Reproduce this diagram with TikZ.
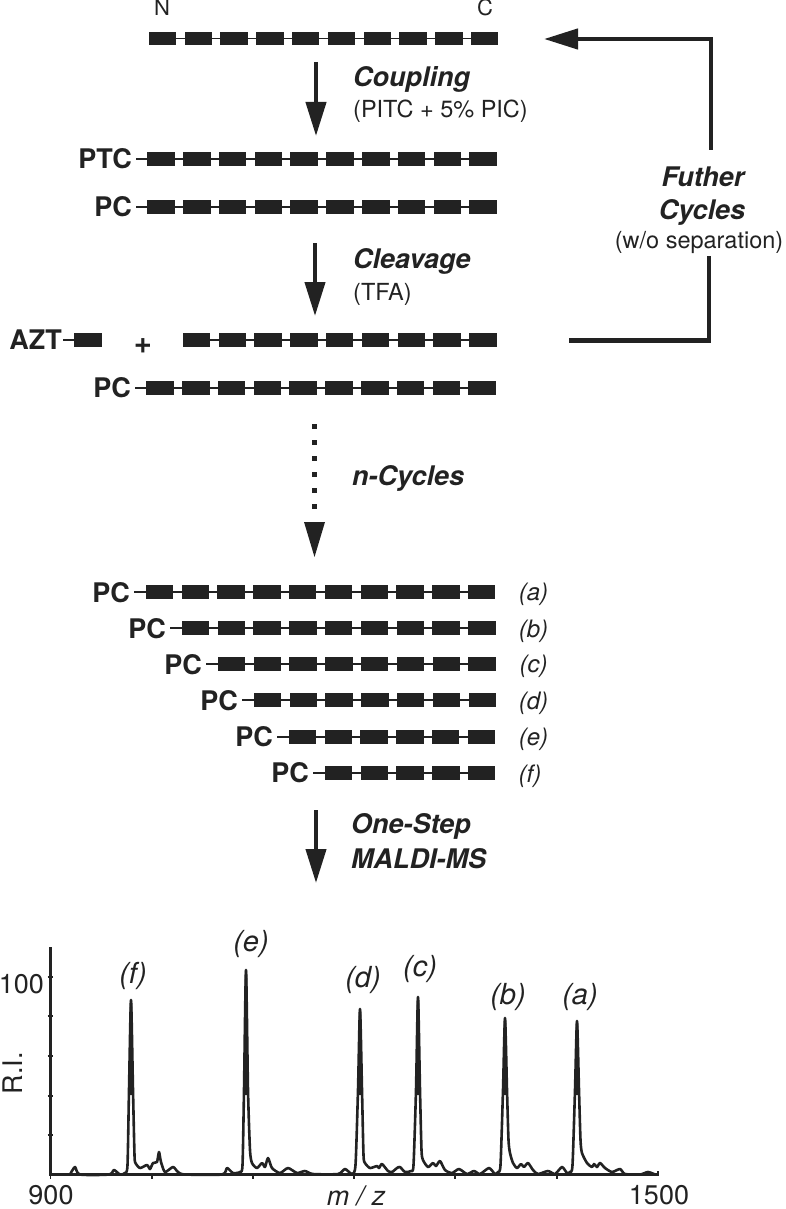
\documentclass[tikz,border=0pt]{standalone}
\usepackage{fontspec}
\setmainfont{TeX Gyre Heros}
\usetikzlibrary{arrows.meta}
\definecolor{ink}{HTML}{222222}
\tikzset{
  res/.style={fill=ink,draw=none,minimum width=27.5pt,minimum height=13.5pt,inner sep=0pt,outer sep=0pt},
  bond/.style={ink,line width=1.8pt},
  flow/.style={ink,line width=4.2pt,-{Triangle[length=34pt,width=20pt]}},
  feed/.style={ink,line width=4.4pt},
  tag/.style={text=ink,font=\fontsize{27}{27}\selectfont\bfseries,anchor=base east,inner sep=0pt},
  step title/.style={text=ink,font=\fontsize{27}{27}\selectfont\bfseries\itshape,anchor=base west,inner sep=0pt},
  reagent/.style={text=ink,font=\fontsize{23.5}{23.5}\selectfont,anchor=base west,inner sep=0pt},
  lett/.style={text=ink,font=\fontsize{24}{24}\selectfont\itshape,anchor=base,inner sep=0pt},
  peaklett/.style={text=ink,font=\fontsize{29}{29}\selectfont\itshape,anchor=base,inner sep=0pt},
  axlab/.style={text=ink,font=\fontsize{27}{27}\selectfont,anchor=base,inner sep=0pt},
  trace/.style={ink,line width=2.6pt,line join=round},
  termlab/.style={text=ink,font=\fontsize{22}{22}\selectfont,anchor=base,inner sep=0pt},
}
% name, first x, y, number of residues
\newcommand\peprow[4]{%
  \foreach \i in {1,...,#4}{\node[res] (#1-\i) at ({#2+(\i-1)*35.8+13.5},#3) {};}%
}
\newcommand\pkfill[2]{\fill[ink] (#1-2,1095) -- (#1-1.2,#2) -- (#1+1.2,#2) -- (#1+2,1095) -- cycle;}
\begin{document}
\begin{tikzpicture}[x=1pt,y=-1pt]
\useasboundingbox (0,0) rectangle (785,1209);
% peptide rows
\peprow{top}{149}{38.5}{10}
\peprow{ptc}{147.5}{159}{10}
\peprow{pca}{147.5}{207}{10}
\node[res] (azt-1) at (88,340) {};
\peprow{cut}{183}{340}{9}
\peprow{pcb}{146.5}{388}{10}
\peprow{ra}{146}{592}{10}
\peprow{rb}{182}{628}{9}
\peprow{rc}{218}{664}{8}
\peprow{rd}{254}{700}{7}
\peprow{re}{289}{737}{6}
\peprow{rf}{325}{773}{5}
\draw[bond] (top-1) -- (top-10);
\draw[bond] (cut-1) -- (cut-9);
% labels and their bonds
\node[termlab] (nterm) at (162,16) {N};
\node[termlab] (cterm) at (485,16) {C};
\node[tag] (lptc) at (132,168) {PTC};
\node[tag] (lpca) at (132,216) {PC};
\node[tag] (lazt) at (62,349) {AZT};
\node[tag] (lpcb) at (131,397) {PC};
\node[tag] (la) at (130,602) {PC};
\node[tag] (lb) at (166,638) {PC};
\node[tag] (lc) at (202,674) {PC};
\node[tag] (ld) at (238,710) {PC};
\node[tag] (le) at (273,746) {PC};
\node[tag] (lf) at (309,782) {PC};
\node[text=ink,font=\fontsize{31}{31}\selectfont\bfseries,inner sep=0pt] (plus) at (143,346) {+};
\foreach \l/\r/\n in {lptc/ptc/10,lpca/pca/10,lpcb/pcb/10,la/ra/10,lb/rb/9,lc/rc/8,ld/rd/7,le/re/6,lf/rf/5}{
  \draw[bond] (\l.east |- \r-1) ++(4,0) -- (\r-\n);
}
\draw[bond] (lazt.east |- azt-1) ++(1,0) -- (azt-1);
% flow arrows
\coordinate (a1s) at (316,62); \coordinate (a1e) at (316,136);
\coordinate (a2s) at (315,243); \coordinate (a2e) at (315,316);
\coordinate (a3s) at (314,426); \coordinate (a3l) at (304,522); \coordinate (a3r) at (325,522); \coordinate (a3e) at (314.5,557);
\coordinate (a4s) at (316,810); \coordinate (a4e) at (316,883);
\draw[flow] (a1s) -- (a1e);
\draw[flow] (a2s) -- (a2e);
\draw[flow] (a4s) -- (a4e);
\foreach \d in {0,...,5}{\fill[ink] (311.5,{424.3+\d*16}) rectangle (316.5,{429.3+\d*16});}
\fill[ink] (a3l) -- (a3r) -- (a3e) -- cycle;
% feedback
\coordinate (fs) at (569,340.5); \coordinate (fc) at (709,340.5); \coordinate (fb) at (709,256);
\coordinate (ft) at (711,150); \coordinate (fd) at (711,39); \coordinate (fe) at (544,39);
\draw[feed] (fs) -- (fc) -- (fb);
\draw[feed,-{Triangle[length=34pt,width=20pt]}] (ft) -- (fd) -- (fe);
% step texts
\node[step title] (coup) at (353,87) {Coupling};
\node[reagent] (pitc) at (353,118) {(PITC + 5\% PIC)};
\node[step title] (clea) at (353,268) {Cleavage};
\node[reagent] (tfa) at (353,300) {(TFA)};
\node[step title] (ncyc) at (352,485) {n-Cycles};
\node[step title] (ones) at (351,833) {One-Step};
\node[step title] (mald) at (351,868) {MALDI-MS};
\node[step title,anchor=base] (fut) at (703,186) {Futher};
\node[step title,anchor=base] (cyc) at (702,219) {Cycles};
\node[reagent,anchor=base] (wo) at (699,248) {(w/o separation)};
% row letters
\foreach \n/\t/\ya in {ta/a/600,tb/b/637,tc/c/672,td/d/709,te/e/745}{
  \node[lett] (\n) at (533.5,\ya) {(\t)};
}
\node[lett] (tf) at (530,782) {(f)};
% spectrum
\coordinate (o) at (50.5,1174.5); \coordinate (yt) at (50.5,947); \coordinate (xe) at (658,1174.5);
\foreach \ya in {977,1016,1056,1096,1135}{\draw[ink,line width=1.8pt] (47.5,\ya) -- (53,\ya);}
\foreach \xa in {50.5,152,253,354,455,557}{\draw[ink,line width=1.8pt] (\xa,1174) -- (\xa,1179);}
\draw[ink,line width=1.8pt] (658,1171) -- (658,1176);
\draw[trace] plot[smooth,tension=.4] coordinates {
 (70,1174.5) (75,1167) (80,1174.5) (109,1174.5) (114,1170) (120,1174.5) (125,1173)
 (127.5,1165) (129,1090) (131,1000) (133,1090) (134.5,1155) (135.5,1163) (140,1168) (147,1165) (150,1169) (153,1163) (157,1162) (159,1152) (161,1162) (165,1172) (173,1167) (178,1172)
 (185,1174.5) (222,1174.5) (227,1168) (233,1173) (240,1172)
 (242.5,1165) (244,1090) (246,970) (248,1090) (250,1150) (252,1163) (257,1168) (262,1163) (265,1167) (268,1158) (272,1168) (280,1173) (288,1168) (297,1173) (305,1171) (313,1174) (338,1174) (345,1169) (352,1174)
 (355.5,1165) (358,1090) (360,1009) (362,1090) (363.5,1155) (365,1163) (370,1168) (377,1166) (379,1168) (382,1164) (388,1171) (392,1172) (397,1168) (400,1167) (405,1172) (411,1171)
 (413.5,1165) (416,1090) (418,997) (420,1090) (421.5,1150) (423,1160) (428,1167) (433,1163) (436,1166) (440,1161) (445,1170) (452,1173) (459,1169) (467,1174) (474,1171) (480,1174) (489,1168) (495,1174) (498,1172)
 (500.5,1165) (503,1090) (505,1018) (507,1090) (508.5,1140) (510,1153) (513,1163) (517,1168) (521,1164) (524,1167) (528,1163) (533,1170) (538,1174) (548,1171) (555,1174) (562,1167) (567,1173) (570,1172)
 (572.5,1165) (575,1090) (577,1021) (579,1090) (580.5,1140) (582,1153) (587,1163) (592,1167) (594,1164) (597,1167) (600,1163) (605,1168) (612,1172) (620,1169) (625,1174) (640,1174.5) (648,1172) (655,1174.5)};
\pkfill{131}{1001}\pkfill{246}{971}\pkfill{360}{1010}\pkfill{418}{998}\pkfill{505}{1019}\pkfill{577}{1022}
\draw[ink,line width=3pt] (yt) -- (o) -- (xe);
\node[peaklett] (pf) at (133,983) {(f)};
\node[peaklett] (pe) at (251,951) {(e)};
\node[peaklett] (pd) at (363,987) {(d)};
\node[peaklett] (pc) at (420,976) {(c)};
\node[peaklett] (pb) at (508,1004) {(b)};
\node[peaklett] (pa) at (580,1004) {(a)};
\node[axlab,anchor=base east] (yh) at (44,993) {100};
\node[axlab,rotate=90,anchor=base] (ri) at (22,1073) {R.I.};
\node[axlab] (x0) at (51,1204) {900};
\node[axlab] (x1) at (659,1204) {1500};
\node[axlab,font=\fontsize{27}{27}\selectfont\itshape] (xl) at (356,1205) {m / z};
\end{tikzpicture}
\end{document}
